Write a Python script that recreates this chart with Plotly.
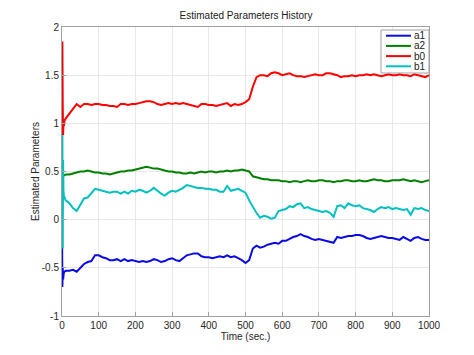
import plotly.graph_objects as go

# time axis (sec.)
t = [0, 1, 2, 3, 4, 5, 7] + list(range(10, 1001, 10))

a1 = [0.0, -0.7, -0.5, -0.62, -0.55, -0.55, -0.54,
      -0.53, -0.53, -0.52, -0.54, -0.5, -0.46, -0.44, -0.43, -0.37, -0.37,
      -0.39, -0.4, -0.42, -0.42, -0.41, -0.43, -0.41, -0.43, -0.42, -0.43,
      -0.44, -0.43, -0.44, -0.43, -0.41, -0.42, -0.44, -0.43, -0.41, -0.4,
      -0.42, -0.43, -0.4, -0.37, -0.36, -0.35, -0.35, -0.38, -0.39, -0.39,
      -0.4, -0.39, -0.38, -0.39, -0.37, -0.39, -0.38, -0.4, -0.42, -0.45,
      -0.42, -0.3, -0.27, -0.29, -0.28, -0.26, -0.25, -0.24, -0.25, -0.22,
      -0.22, -0.2, -0.18, -0.17, -0.15, -0.17, -0.18, -0.2, -0.21, -0.2,
      -0.21, -0.22, -0.23, -0.24, -0.18, -0.19, -0.18, -0.17, -0.17, -0.16,
      -0.16, -0.17, -0.19, -0.2, -0.19, -0.18, -0.17, -0.18, -0.19, -0.19,
      -0.2, -0.21, -0.18, -0.2, -0.22, -0.19, -0.18, -0.2, -0.21, -0.21]

a2 = [0.5, 0.46, 0.48, 0.45, 0.46, 0.46, 0.46,
      0.47, 0.47, 0.48, 0.49, 0.5, 0.5, 0.51, 0.5, 0.49, 0.49,
      0.48, 0.48, 0.47, 0.48, 0.49, 0.5, 0.5, 0.51, 0.51, 0.52,
      0.53, 0.54, 0.55, 0.54, 0.53, 0.53, 0.52, 0.51, 0.5, 0.5,
      0.49, 0.49, 0.48, 0.48, 0.49, 0.48, 0.49, 0.5, 0.49, 0.5,
      0.5, 0.49, 0.5, 0.5, 0.51, 0.5, 0.51, 0.51, 0.52, 0.51,
      0.5, 0.45, 0.44, 0.43, 0.42, 0.42, 0.41, 0.41, 0.41, 0.4,
      0.4, 0.39, 0.4, 0.4, 0.39, 0.4, 0.41, 0.4, 0.4, 0.41,
      0.41, 0.4, 0.4, 0.39, 0.4, 0.4, 0.41, 0.41, 0.4, 0.4,
      0.41, 0.4, 0.4, 0.41, 0.42, 0.41, 0.41, 0.4, 0.4, 0.41,
      0.41, 0.41, 0.42, 0.41, 0.4, 0.41, 0.4, 0.39, 0.4, 0.41]

b0 = [0.6, 1.85, 1.2, 0.88, 1.0, 0.97, 1.03,
      1.05, 1.1, 1.15, 1.2, 1.17, 1.2, 1.2, 1.19, 1.2, 1.2,
      1.19, 1.19, 1.18, 1.18, 1.17, 1.2, 1.2, 1.19, 1.2, 1.2,
      1.21, 1.22, 1.23, 1.23, 1.22, 1.2, 1.19, 1.2, 1.21, 1.2,
      1.21, 1.2, 1.21, 1.2, 1.19, 1.18, 1.17, 1.2, 1.2, 1.19,
      1.19, 1.18, 1.19, 1.2, 1.21, 1.18, 1.2, 1.19, 1.2, 1.22,
      1.25, 1.38, 1.48, 1.5, 1.5, 1.49, 1.52, 1.53, 1.52, 1.5,
      1.51, 1.52, 1.5, 1.49, 1.49, 1.48, 1.49, 1.5, 1.51, 1.5,
      1.5, 1.52, 1.52, 1.51, 1.5, 1.48, 1.49, 1.49, 1.5, 1.49,
      1.5, 1.5, 1.51, 1.5, 1.51, 1.5, 1.49, 1.5, 1.51, 1.5,
      1.5, 1.51, 1.5, 1.5, 1.49, 1.51, 1.5, 1.49, 1.48, 1.5]

b1 = [0.0, 0.88, -0.3, 0.62, 0.3, 0.25, 0.22,
      0.2, 0.17, 0.12, 0.09, 0.15, 0.22, 0.23, 0.27, 0.32, 0.31,
      0.3, 0.29, 0.28, 0.29, 0.29, 0.27, 0.29, 0.27, 0.3, 0.29,
      0.31, 0.3, 0.28, 0.3, 0.33, 0.3, 0.27, 0.25, 0.28, 0.3,
      0.29, 0.31, 0.33, 0.36, 0.35, 0.34, 0.33, 0.33, 0.32, 0.32,
      0.31, 0.31, 0.29, 0.29, 0.35, 0.3, 0.31, 0.32, 0.3, 0.28,
      0.2, 0.13, 0.07, 0.02, 0.04, 0.03, 0.01, 0.02, 0.09, 0.1,
      0.11, 0.14, 0.13, 0.16, 0.17, 0.12, 0.13, 0.11, 0.1, 0.09,
      0.08, 0.09, 0.07, 0.03, 0.14, 0.15, 0.12, 0.17, 0.15, 0.14,
      0.15, 0.12, 0.11, 0.1, 0.08, 0.11, 0.13, 0.12, 0.13, 0.11,
      0.12, 0.11, 0.1, 0.11, 0.05, 0.12, 0.11, 0.12, 0.1, 0.09]

names = ["a1", "a2", "b0", "b1"]
colors = ["#0a0ae6", "#008000", "#ff0000", "#00c0c0"]
values = [a1, a2, b0, b1]

x_ticks = list(range(0, 1001, 100))
y_ticks = [-1, -0.5, 0, 0.5, 1, 1.5, 2]
y_tick_labels = ["-1", "-0.5", "0", "0.5", "1", "1.5", "2"]

fig = go.Figure()
for name, vals, col in zip(names, values, colors):
    fig.add_trace(go.Scatter(x=t, y=vals, mode="lines", name=name,
                             line=dict(color=col, width=2), showlegend=False))

# compact MATLAB-style legend box (paper coordinates of the plot area)
W, H = 367.0, 289.0            # plot area size in px
def px(xp):
    return (xp - 62) / W
def py(yp):
    return (316 - yp) / H

shapes = [dict(type="rect", xref="paper", yref="paper",
               x0=px(381), x1=px(429), y0=py(73), y1=py(30),
               line=dict(color="#a0a0a0", width=1), fillcolor="white", layer="above")]
annotations = []
for i, (name, col) in enumerate(zip(names, colors)):
    yy = 35.7 + i * 10.2
    shapes.append(dict(type="line", xref="paper", yref="paper",
                       x0=px(386), x1=px(411), y0=py(yy), y1=py(yy),
                       line=dict(color=col, width=2), layer="above"))
    annotations.append(dict(xref="paper", yref="paper", x=px(412), y=py(yy),
                            xanchor="left", yanchor="middle", text=name,
                            showarrow=False, font=dict(size=10, color="#1a1a1a")))

axis_common = dict(showline=True, linecolor="#a0a0a0", linewidth=1, mirror=True,
                   showgrid=True, gridcolor="#e8e8e8", gridwidth=1,
                   ticks="inside", ticklen=4, tickcolor="#a0a0a0",
                   zeroline=False, tickfont=dict(size=10, color="#262626"))

fig.update_layout(
    width=474, height=355,
    margin=dict(l=62, r=45, t=27, b=39),
    paper_bgcolor="white", plot_bgcolor="white",
    font=dict(family="Liberation Sans, Arial, sans-serif", size=10, color="#262626"),
    title=dict(text="Estimated Parameters History", x=0.519, xanchor="center",
               y=0.955, yanchor="middle", font=dict(size=10, color="#1a1a1a")),
    showlegend=False,
    shapes=shapes,
    annotations=annotations,
)
fig.update_xaxes(range=[0, 1000], tickvals=x_ticks,
                 title=dict(text="Time (sec.)", standoff=0, font=dict(size=10)),
                 **axis_common)
fig.update_yaxes(range=[-1, 2], tickvals=y_ticks, ticktext=y_tick_labels,
                 title=dict(text="Estimated Parameters", standoff=0, font=dict(size=10)),
                 **axis_common)

fig.write_html("out.html")
